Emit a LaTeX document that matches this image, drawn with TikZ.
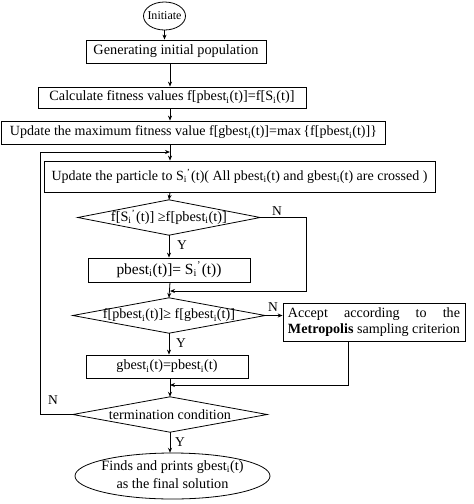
\documentclass[tikz,border=0pt]{standalone}
\usepackage{fontspec}
\setmainfont{Liberation Serif}
\usetikzlibrary{arrows.meta,shapes.geometric}
\newcommand\sbi{\textsubscript{i}}
\newcommand\Sip{S\rlap{\textsubscript{i}}\textsuperscript{\,\,'}\kern0.5pt}
\newcommand\fitw[2]{\resizebox{#1}{!}{#2}}
\newlength\accw
\begin{document}
\begin{tikzpicture}[x=1pt,y=-1pt,
  every node/.style={font=\fontsize{12}{13.8}\selectfont, inner sep=0pt},
  box/.style={draw, line width=0.8pt, rectangle},
  dia/.style={rectangle},
  oval/.style={rectangle},
  arr/.style={line width=0.8pt, -{Stealth[length=5pt,width=4pt]}},
  ln/.style={line width=0.8pt},
  lab/.style={font=\fontsize{13.5}{14}\selectfont}]
\useasboundingbox (0,0) rectangle (474,504);
\node[oval, minimum width=42pt, minimum height=28pt] (init) at (164.5,16) {\fitw{34pt}{Initiate}};
\draw[ln] (init.center) ellipse [x radius=21pt, y radius=14pt];
\node[box, minimum width=180pt, minimum height=23pt] (gen) at (176,51.5) {\fitw{165pt}{Generating initial population}};
\node[box, minimum width=268pt, minimum height=21pt] (calc) at (172,97.5) {\fitw{245pt}{Calculate fitness values f[pbest\sbi(t)]=f[S\sbi(t)]}};
\node[box, minimum width=384pt, minimum height=23pt] (umax) at (193.5,132.5) {\fitw{367pt}{Update the maximum fitness value f[gbest\sbi(t)]=max\,\{f[pbest\sbi(t)]\}}};
\node[box, minimum width=391pt, minimum height=31pt] (part) at (239.5,176.5) {\fitw{376pt}{Update the particle to \Sip(t)( All pbest\sbi(t) and gbest\sbi(t) are crossed )}};
\node[dia, minimum width=182pt, minimum height=35pt] (d1) at (169,217.5) {\fitw{116pt}{f[\Sip(t)] ≥f[pbest\sbi(t)]}};
\draw[ln] (d1.west) -- (d1.north) -- (d1.east) -- (d1.south) -- cycle;
\node[box, minimum width=162pt, minimum height=24pt] (pb) at (169,270) {\fitw{105pt}{pbest\sbi(t)]= \Sip(t))}};
\node[dia, minimum width=192pt, minimum height=35pt] (d2) at (169,315.5) {\fitw{132pt}{f[pbest\sbi(t)]≥ f[gbest\sbi(t)]}};
\draw[ln] (d2.west) -- (d2.north) -- (d2.east) -- (d2.south) -- cycle;
\node[box, minimum width=182pt, minimum height=38pt] (acc) at (374,322)
  {\settowidth{\accw}{\textbf{Metropolis} sampling criterion}%
   \fitw{172pt}{\begin{tabular}{@{}l@{}}\makebox[\accw]{Accept\hfill according\hfill to\hfill the}\\\textbf{Metropolis} sampling criterion\end{tabular}}};
\node[box, minimum width=162pt, minimum height=23pt] (gb) at (167,366.5) {\fitw{101pt}{gbest\sbi(t)=pbest\sbi(t)}};
\node[dia, minimum width=194pt, minimum height=35pt] (d3) at (170,414.5) {\fitw{122pt}{termination condition}};
\draw[ln] (d3.west) -- (d3.north) -- (d3.east) -- (d3.south) -- cycle;
\node[oval, minimum width=195pt, minimum height=46pt] (fin) at (172.5,476) {\fitw{142pt}{\begin{tabular}{@{}c@{}}Finds and prints gbest\sbi(t)\\[1pt]as the final solution\end{tabular}}};
\draw[ln] (fin.center) ellipse [x radius=97.5pt, y radius=23pt];
% helper coordinates
\coordinate (col) at (170,0);
\coordinate (lp) at (40,0);
\coordinate (rp) at (306,0);
\coordinate (ax) at (348,0);
\coordinate (j1) at (170,152);
\coordinate (j2) at (170,291);
\coordinate (j3) at (170,385);
% main flow
\draw[arr] (init.south) -- (gen.north -| init.south);
\draw[arr] (gen.south -| col) -- (calc.north -| col);
\draw[arr] (calc.south -| col) -- (umax.north -| col);
\draw[arr] (umax.south -| col) -- (part.north -| col);
\draw[arr] (part.south -| col) -- (d1.north);
\draw[arr] (d1.south) -- (pb.north -| d1.south);
\draw[arr] (pb.south -| col) -- (d2.north);
\draw[arr] (d2.south) -- (gb.north -| d2.south);
\draw[arr] (gb.south -| col) -- (d3.north);
\draw[arr] (d3.south) -- (fin.north -| d3.south);
% branches
\draw[arr] (d1.east) -- (d1.east -| rp) |- (j2);
\draw[arr] (d2.east) -- (d2.east -| acc.west);
\draw[arr] (acc.south -| ax) |- (j3);
\draw[arr] (d3.west) -- (d3.west -| lp) |- (j1);
% labels
\node[lab] at (277,211) {N};
\node[lab] at (182,245) {Y};
\node[lab] at (273,307) {N};
\node[lab] at (181,343) {Y};
\node[lab] at (53,400) {N};
\node[lab] at (180,442) {Y};
\end{tikzpicture}
\end{document}
